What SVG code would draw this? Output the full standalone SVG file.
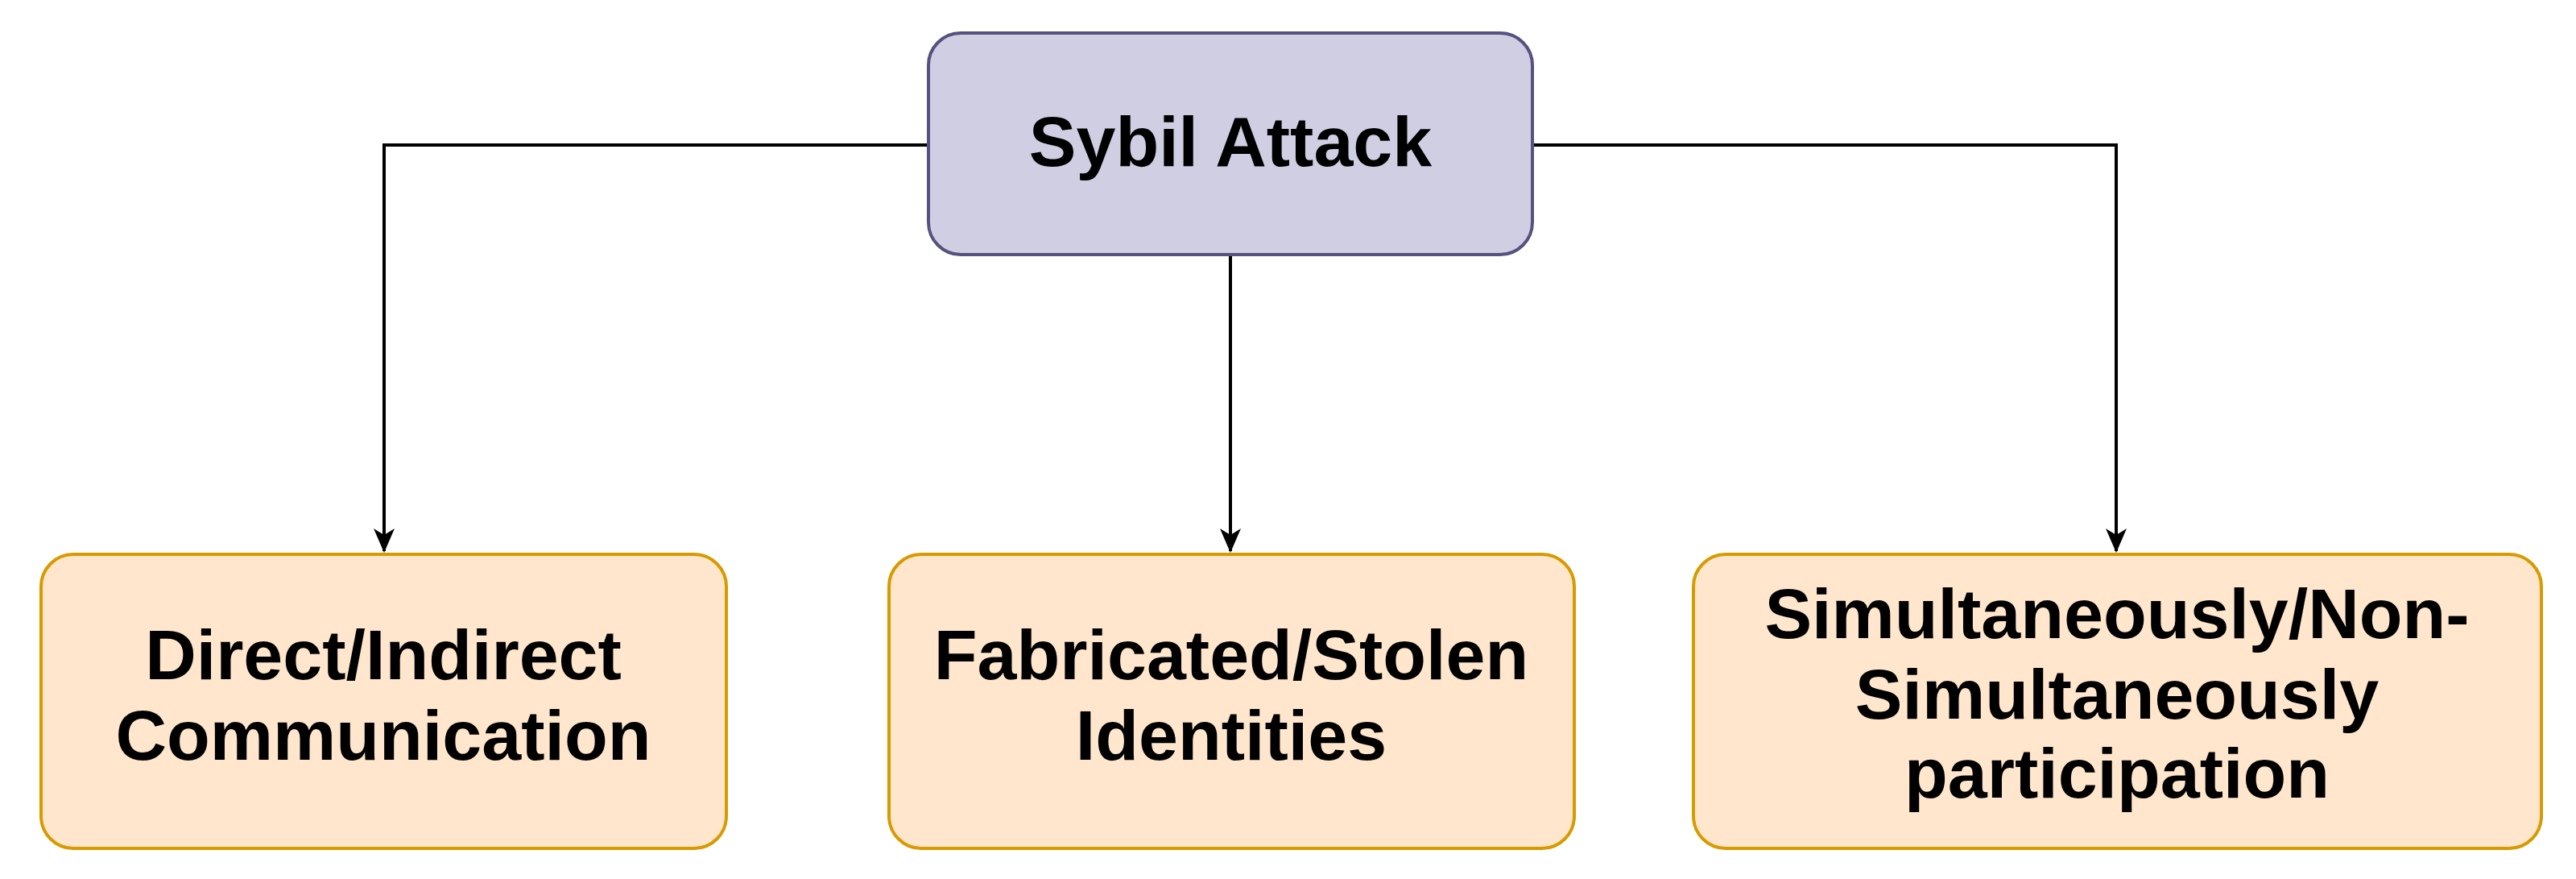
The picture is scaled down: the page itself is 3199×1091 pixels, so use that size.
<svg xmlns="http://www.w3.org/2000/svg" width="3199" height="1091" viewBox="0 0 3199 1091">
<style>
.t{font-family:"Liberation Sans",Arial,sans-serif;font-weight:bold;font-size:88px;text-anchor:middle;fill:#000}
.p{fill:#d0cee2;stroke:#56517e;stroke-width:4}
.o{fill:#ffe6cc;stroke:#d79b00;stroke-width:4}
.c{fill:none;stroke:#000;stroke-width:4}
</style>
<defs><marker id="a" markerWidth="10" markerHeight="10" refX="8" refY="5" orient="auto" markerUnits="userSpaceOnUse" viewBox="0 0 10 10"><path d="M0,0L10,5L0,10L3,5Z" fill="#000" transform="scale(1)"/></marker>
<marker id="b" viewBox="0 0 30 30" refX="28" refY="15" markerWidth="30" markerHeight="30" orient="auto" markerUnits="userSpaceOnUse"><path d="M0,2L30,15L0,28L8,15Z" fill="#000"/></marker></defs>
<rect width="3199" height="1091" fill="#fff"/>
<g id="connectors">
<path class="c" d="M1153,180H477V684" marker-end="url(#b)"/>
<path class="c" d="M1528,316V684" marker-end="url(#b)"/>
<path class="c" d="M1903,180H2628V684" marker-end="url(#b)"/>
</g>
<g id="sybil"><rect class="p" x="1153" y="41" width="750" height="275" rx="40"/><text class="t" x="1528" y="206">Sybil Attack</text></g>
<g id="direct"><rect class="o" x="51" y="688" width="851" height="365" rx="40"/><text class="t" x="476" y="843">Direct/Indirect</text><text class="t" x="476" y="943">Communication</text></g>
<g id="fabricated"><rect class="o" x="1104" y="688" width="851" height="365" rx="40"/><text class="t" x="1529" y="843">Fabricated/Stolen</text><text class="t" x="1529" y="943">Identities</text></g>
<g id="simultaneous"><rect class="o" x="2103" y="688" width="1053" height="365" rx="40"/><text class="t" x="2629" y="792">Simultaneously/Non-</text><text class="t" x="2629" y="892">Simultaneously</text><text class="t" x="2629" y="990">participation</text></g>
</svg>
